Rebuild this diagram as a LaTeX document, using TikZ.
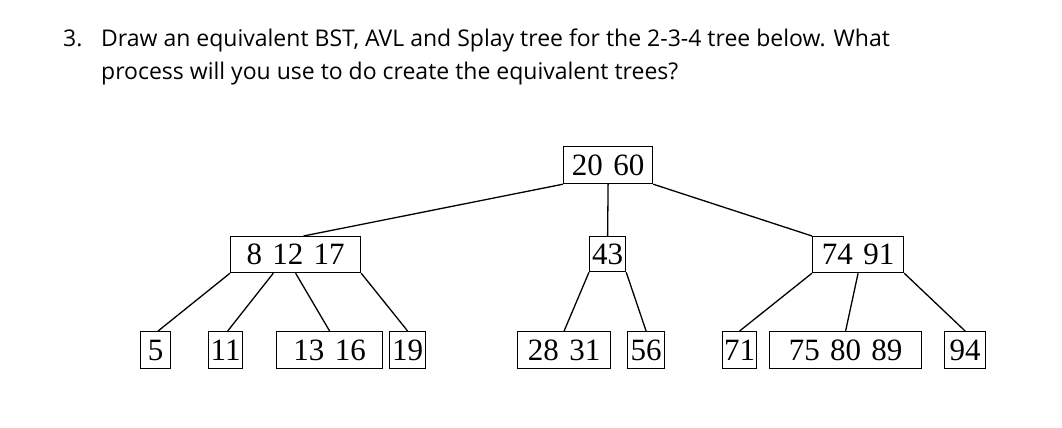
\documentclass[tikz,border=0pt]{standalone}
\usepackage{fontspec}
\usetikzlibrary{calc}
\setmainfont{Liberation Serif}
\newfontfamily\qfont{Open Sans}
\begin{document}
\begin{tikzpicture}[x=1pt,y=-1pt,
  kb/.style={draw,line width=1.2pt,rectangle,inner sep=0pt,font=\fontsize{31}{31}\selectfont,anchor=north west},
  ed/.style={line width=1.3pt}]
\useasboundingbox (0,0) rectangle (1062,428);
\node[anchor=base west,font=\qfont\fontsize{23}{24}\selectfont,inner sep=0pt] (q1) at (63,47) {3.};
\node[anchor=base west,font=\qfont\fontsize{23}{24}\selectfont,inner sep=0pt] (q2) at (101,47) {Draw an equivalent BST, AVL and Splay tree for the 2-3-4 tree below. What};
\node[anchor=base west,font=\qfont\fontsize{23}{24}\selectfont,inner sep=0pt] (q3) at (101,79) {process will you use to do create the equivalent trees?};
\newcommand{\kbox}[5]{\node[kb,minimum width=#4,minimum height=#5] (#1) at #2 {#3};}
\kbox{r}{(563,146)}{20\,\,60}{89pt}{37pt}
\kbox{a}{(230,236)}{8\,\,12\,\,17}{130pt}{36pt}
\kbox{b}{(589,236)}{43}{36pt}{35pt}
\kbox{c}{(812,236)}{74\,\,91}{91pt}{36pt}
\kbox{l1}{(140,331)}{5}{30pt}{37pt}
\kbox{l2}{(208,331)}{11}{34pt}{37pt}
\kbox{l3}{(276,331)}{13\,\,16}{106pt}{37pt}
\kbox{l4}{(389,331)}{19}{36pt}{37pt}
\kbox{l5}{(517,331)}{28\,\,31}{93pt}{37pt}
\kbox{l6}{(627,331)}{56}{37pt}{37pt}
\kbox{l7}{(722,331)}{71}{34pt}{37pt}
\kbox{l8}{(769,331)}{75\,\,80\,\,89}{152pt}{37pt}
\kbox{l9}{(944,331)}{94}{41pt}{37pt}
\draw[ed] (r.south west) -- ($(a.north west)!0.56!(a.north east)$);
\draw[ed] (r.south) -- (b.north);
\draw[ed] (r.south east) -- (c.north west);
\draw[ed] (a.south west) -- ($(l1.north west)!0.58!(l1.north east)$);
\draw[ed] ($(a.south west)!0.33!(a.south east)$) -- ($(l2.north west)!0.56!(l2.north east)$);
\draw[ed] (a.south) -- (l3.north);
\draw[ed] (a.south east) -- (l4.north);
\draw[ed] (b.south west) -- (l5.north);
\draw[ed] (b.south east) -- (l6.north);
\draw[ed] (c.south west) -- (l7.north);
\draw[ed] (c.south) -- (l8.north);
\draw[ed] (c.south east) -- (l9.north);
\end{tikzpicture}
\end{document}
